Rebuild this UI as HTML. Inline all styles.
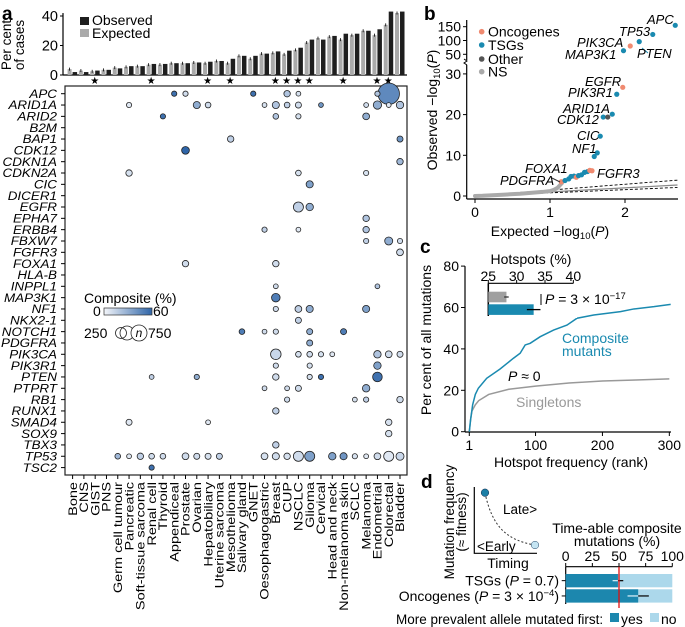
<!DOCTYPE html>
<html><head><meta charset="utf-8">
<style>
html,body{margin:0;padding:0;background:#fff;}
svg{display:block;font-family:"Liberation Sans",Arial,sans-serif;}
</style></head>
<body>
<svg id="fig" width="685" height="627" viewBox="0 0 685 627" xmlns="http://www.w3.org/2000/svg">
<g id="pa"></g>
<g id="pb"></g>
<g id="pc"></g>
<g id="pd"></g>
</svg>
<script>
// ---------- Panel a data ----------
const cancers = ["Bone","CNS","GIST","PNS","Germ cell tumour","Pancreatic","Soft-tissue sarcoma","Renal cell","Thyroid","Appendiceal","Prostate","Ovarian","Hepatobiliary","Uterine sarcoma","Mesothelioma","Salivary gland","GNET","Oesophagogastric","Breast","CUP","NSCLC","Glioma","Cervical","Head and neck","Non-melanoma skin","SCLC","Melanoma","Endometrial","Colorectal","Bladder"];
const expectedPct = [4,3,2.5,3.5,5,5.5,6,7,7,8,8,8.5,8,9.5,8,13,11,14.5,15,14,17,22,25,26,24,27,30,27,34,42];
const observedPct = [2,2,3,3.5,4.5,6,6,7.5,7.5,8,8,8.5,9,9.5,11,13,13,14.5,16,16.5,18.5,24,24,26.5,28,28,30,31,43,43];
const starCols = [2,7,12,14,18,19,20,21,24,27,28];
const barTicks = [0,20,40];
const genes = ["APC","ARID1A","ARID2","B2M","BAP1","CDK12","CDKN1A","CDKN2A","CIC","DICER1","EGFR","EPHA7","ERBB4","FBXW7","FGFR3","FOXA1","HLA-B","INPPL1","MAP3K1","NF1","NKX2-1","NOTCH1","PDGFRA","PIK3CA","PIK3R1","PTEN","PTPRT","RB1","RUNX1","SMAD4","SOX9","TBX3","TP53","TSC2"];
// [gene, cancer index, n, composite %]
const bubbles = [
["APC",9,30,55],["APC",10,30,10],["APC",16,30,55],["APC",19,45,20],["APC",20,25,8],["APC",27,30,20],["APC",28,500,45],
["ARID1A",5,30,5],["ARID1A",11,55,30],["ARID1A",12,35,10],["ARID1A",17,25,8],["ARID1A",18,55,20],["ARID1A",19,35,15],["ARID1A",20,40,10],["ARID1A",22,25,40],["ARID1A",26,25,10],["ARID1A",27,75,30],["ARID1A",28,25,5],["ARID1A",29,60,20],
["ARID2",8,30,55],["ARID2",18,35,20],["ARID2",20,30,8],["ARID2",26,50,30],
["BAP1",14,45,15],["BAP1",29,40,40],
["CDK12",10,65,60],
["CDKN1A",29,45,25],
["CDKN2A",5,45,8],["CDKN2A",20,35,8],["CDKN2A",26,30,8],
["CIC",21,55,35],
["EGFR",20,110,15],["EGFR",21,60,30],
["EPHA7",26,45,20],
["ERBB4",17,30,15],["ERBB4",20,25,5],["ERBB4",26,45,20],
["FBXW7",26,30,15],["FBXW7",28,70,30],["FBXW7",29,30,10],
["FGFR3",29,50,10],
["FOXA1",10,45,10],["FOXA1",18,45,10],
["INPPL1",18,25,10],["INPPL1",27,25,20],
["MAP3K1",18,80,50],
["NF1",18,30,10],["NF1",20,50,15],["NF1",21,55,30],["NF1",26,55,35],
["NKX2-1",20,40,15],
["NOTCH1",15,35,50],["NOTCH1",17,25,10],["NOTCH1",18,30,10],["NOTCH1",21,40,30],["NOTCH1",24,40,50],
["PDGFRA",21,40,30],
["PIK3CA",18,120,12],["PIK3CA",20,35,8],["PIK3CA",21,35,10],["PIK3CA",22,30,8],["PIK3CA",23,25,5],["PIK3CA",27,60,20],["PIK3CA",28,50,10],["PIK3CA",29,40,10],
["PIK3R1",18,30,10],["PIK3R1",21,30,8],["PIK3R1",27,60,35],
["PTEN",7,25,15],["PTEN",11,30,30],["PTEN",18,45,10],["PTEN",21,30,8],["PTEN",22,30,55],["PTEN",27,100,55],
["PTPRT",17,25,10],["PTPRT",19,25,10],["PTPRT",20,40,10],["PTPRT",26,60,30],
["RB1",19,30,10],["RB1",25,25,8],["RB1",26,30,15],["RB1",29,45,10],
["RUNX1",18,45,15],
["SMAD4",5,40,5],["SMAD4",12,25,5],["SMAD4",28,45,8],
["SOX9",28,45,8],
["TBX3",18,45,15],
["TP53",4,35,25],["TP53",5,25,5],["TP53",6,45,15],["TP53",7,35,10],["TP53",8,35,10],["TP53",10,50,10],["TP53",11,40,10],["TP53",12,40,8],["TP53",13,40,15],["TP53",17,50,8],["TP53",18,55,10],["TP53",19,45,8],["TP53",20,110,10],["TP53",21,110,35],["TP53",23,60,35],["TP53",24,55,40],["TP53",25,30,8],["TP53",26,25,5],["TP53",27,50,10],["TP53",28,110,5],["TP53",29,70,12],
["TSC2",7,30,55]
];
// ---------- Panel b data ----------
const qqTicksX = [0,1,2];
const qqTicksLow = [0,10,20,30];
const qqTicksHigh = [50,100,150];
const nsExp = [0,0.1,0.2,0.3,0.4,0.5,0.6,0.7,0.8,0.9,1.0,1.05,1.1,1.13,1.16];
const nsObs = [0,0.05,0.15,0.25,0.35,0.45,0.55,0.7,0.85,1.0,1.2,1.5,2.0,2.6,3.2];
const sigExp = [1.15,1.2,1.25,1.28,1.32,1.35,1.38,1.42,1.46,1.5,1.53,1.56,1.59,1.63,1.67,1.71,1.77,1.83,1.89,1.97,1.98,2.07,2.19,2.37,2.67];
const sigObs = [3.5,3.8,4.2,4.8,4.9,4.6,5.0,5.2,5.8,6.0,6.3,6.2,9.7,10.6,14.7,19.4,19.4,20.1,25,26.7,63,80,96,122,155];
const sigType = ["onc","tsg","tsg","tsg","tsg","onc","tsg","tsg","tsg","tsg","onc","onc","tsg","tsg","tsg","tsg","other","tsg","tsg","onc","tsg","onc","tsg","tsg","tsg"];
const qqLabels = [["APC",647,24],["TP53",619,36],["PIK3CA",577,47],["PTEN",637,58],["MAP3K1",565,59],["EGFR",585,86],["PIK3R1",568,97],["ARID1A",563,113],["CDK12",557,124],["CIC",577,140],["NF1",572,153],["FOXA1",525,173],["PDGFRA",500,185],["FGFR3",597,178]];
// ---------- Panel c data ----------
const rankTicks = [1,100,200,300];
const pctTicks = [0,20,40,60,80];
const compRank = [1,3,6,10,14.5,27,47,67,77,84.5,92,107,127,147,162,187,227,247,277,302];
const compPct = [0,6,13,18,21,25.8,30.3,35.5,37.9,41.9,42.7,45.9,49.1,51.5,54.8,56.4,58,59.3,60.4,61.5];
const singRank = [1,3,5,10,15,30,60,100,150,200,250,300];
const singPct = [0,6,10,13,15,18,20.5,22,23.5,24.5,25,25.5];
const hotTicks = [25,30,35,40];
const hotVals = [28.2,33];
const hotErr = [0.4,1.2];
// ---------- Panel d data ----------
const dGroups = ["TSGs","Oncogenes"];
const dYes = [49,68];
const dErrLo = [44,58];
const dErrHi = [54,78];
const dTicks = [0,25,50,75,100];

const NS="http://www.w3.org/2000/svg";
function mk(parent,tag,attrs,text){const e=document.createElementNS(NS,tag);for(const k in attrs)e.setAttribute(k,attrs[k]);if(text!==undefined)e.textContent=text;parent.appendChild(e);return e;}

// ================= Panel a =================
const pa=document.getElementById('pa');
const colX=j=>72.6+j*11.29;
const rowY=i=>93.7+i*11.33;
const barY=v=>75-v*1.475;
let t=mk(pa,'text',{x:2,y:20,'font-size':19,'font-weight':'bold'},'a');

t=mk(pa,'text',{transform:'translate(11,45) rotate(-90)','text-anchor':'middle','font-size':13.5},'Per cent');

t=mk(pa,'text',{transform:'translate(24,45) rotate(-90)','text-anchor':'middle','font-size':13.5},'of cases');

mk(pa,'line',{x1:63,y1:barY(42),x2:63,y2:75.5,stroke:'#000','stroke-width':1.2});
mk(pa,'line',{x1:63,y1:75,x2:407,y2:75,stroke:'#000','stroke-width':1.2});
barTicks.forEach(v=>{
  mk(pa,'line',{x1:60,y1:barY(v),x2:63,y2:barY(v),stroke:'#000'});
  const e=mk(pa,'text',{x:58,y:barY(v)+5,'text-anchor':'end','font-size':14.5},String(v));
  
});
cancers.forEach((c,j)=>{
  const x=colX(j);
  const b1=mk(pa,'rect',{x:x-5,y:barY(expectedPct[j]),width:4,height:75-barY(expectedPct[j]),fill:'#aaa'});
  
  const b2=mk(pa,'rect',{x:x,y:barY(observedPct[j]),width:4.5,height:75-barY(observedPct[j]),fill:'#1e1e1e'});
  
  mk(pa,'line',{x1:x-3,y1:barY(expectedPct[j])-1.5,x2:x-3,y2:barY(expectedPct[j])+1.5,stroke:'#000','stroke-width':0.8});
});
starCols.forEach(j=>{
  const s=mk(pa,'text',{x:colX(j)-0.5,y:84,'text-anchor':'middle','font-size':10},'★');
  
});
// legend
mk(pa,'rect',{x:80,y:17,width:9,height:8,fill:'#1e1e1e'});
t=mk(pa,'text',{x:92,y:25,'font-size':14},'Observed');
mk(pa,'rect',{x:80,y:29,width:9,height:8,fill:'#aaa'});
t=mk(pa,'text',{x:92,y:38,'font-size':14},'Expected');
// bubble box
const box=mk(pa,'rect',{x:65,y:86,width:342,height:389,fill:'none',stroke:'#222','stroke-width':1.2});

genes.forEach((g,i)=>{
  mk(pa,'line',{x1:61,y1:rowY(i),x2:65,y2:rowY(i),stroke:'#000'});
  const e=mk(pa,'text',{transform:`translate(57,${rowY(i)+4.2}) scale(1.12,1)`,'text-anchor':'end','font-size':12,'font-style':'italic'},g);
  
});
cancers.forEach((c,j)=>{
  mk(pa,'line',{x1:colX(j),y1:475,x2:colX(j),y2:479,stroke:'#000'});
  const e=mk(pa,'text',{transform:`translate(${colX(j)+4.2},482) rotate(-90) scale(1.25,1)`,'text-anchor':'end','font-size':11.6},c);
  
});
function compColor(p){const f=Math.min(1,p/60);const a=[240,244,250],b=[47,101,168];return `rgb(${a.map((v,k)=>Math.round(v+(b[k]-v)*f)).join(',')})`;}
bubbles.slice().sort((a,b)=>b[2]-a[2]).forEach(b=>{
  const i=genes.indexOf(b[0]);
  const c=mk(pa,'circle',{cx:colX(b[1]),cy:rowY(i),r:0.48*Math.sqrt(b[2]),fill:compColor(b[3]),stroke:'#222','stroke-width':0.8});
  
});
// composite legend
t=mk(pa,'text',{x:84,y:303,'font-size':14},'Composite (%)');
const defs=mk(document.getElementById('fig'),'defs',{});
const lg=mk(defs,'linearGradient',{id:'cg',x1:0,x2:1,y1:0,y2:0});
mk(lg,'stop',{offset:0,'stop-color':'#f4f6fa'});mk(lg,'stop',{offset:1,'stop-color':'#2f65a8'});
mk(pa,'text',{x:93,y:316,'font-size':14},'0');
const gb=mk(pa,'rect',{x:104,y:308,width:48,height:7,fill:'url(#cg)',stroke:'#333','stroke-width':0.7});

mk(pa,'text',{x:153,y:316,'font-size':14},'60');
mk(pa,'text',{x:84,y:338,'font-size':14},'250');
mk(pa,'circle',{cx:121,cy:333,r:5.5,fill:'none',stroke:'#222','stroke-width':0.8});
mk(pa,'circle',{cx:127,cy:333,r:7,fill:'none',stroke:'#222','stroke-width':0.8});
mk(pa,'circle',{cx:139,cy:333,r:8,fill:'#fff',stroke:'#222','stroke-width':0.8});
mk(pa,'text',{x:139,y:337,'font-size':12,'font-style':'italic','text-anchor':'middle'},'n');
mk(pa,'text',{x:148,y:338,'font-size':14},'750');

// ================= Panel b =================
const pb=document.getElementById('pb');
const bx=v=>475+75*v;
const by=v=>v<=40?196-4.07*v:54.3-0.276*(v-50);
t=mk(pb,'text',{x:424,y:20,'font-size':19,'font-weight':'bold'},'b');
mk(pb,'line',{x1:466.7,y1:20,x2:466.7,y2:60,stroke:'#000','stroke-width':1.2});
mk(pb,'line',{x1:466.7,y1:65,x2:466.7,y2:199,stroke:'#000','stroke-width':1.2});
mk(pb,'path',{d:'M464,59 l3,2 l-3,2 l3,2',fill:'none',stroke:'#000','stroke-width':1});
mk(pb,'line',{x1:466.7,y1:199,x2:678,y2:199,stroke:'#000','stroke-width':1.2});
qqTicksX.forEach(v=>{mk(pb,'line',{x1:bx(v),y1:199,x2:bx(v),y2:203,stroke:'#000'});
  const e=mk(pb,'text',{x:bx(v),y:217,'text-anchor':'middle','font-size':14},String(v));});
qqTicksLow.concat(qqTicksHigh).forEach(v=>{mk(pb,'line',{x1:463,y1:by(v),x2:466.7,y2:by(v),stroke:'#000'});
  const e=mk(pb,'text',{x:461,y:by(v)+5,'text-anchor':'end','font-size':14},String(v));});
t=mk(pb,'text',{x:550,y:236,'text-anchor':'middle','font-size':14});t.innerHTML='Expected −log<tspan font-size="9.5" dy="3">10</tspan><tspan dy="-3">(</tspan><tspan font-style="italic">P</tspan>)';

t=mk(pb,'text',{transform:'translate(437,110) rotate(-90)','text-anchor':'middle','font-size':14});t.innerHTML='Observed −log<tspan font-size="9.5" dy="3">10</tspan><tspan dy="-3">(</tspan><tspan font-style="italic">P</tspan>)';

mk(pb,'line',{x1:bx(0),y1:by(0),x2:bx(2.7),y2:by(2.7),stroke:'#888','stroke-width':1.2});
mk(pb,'line',{x1:bx(0),y1:by(0),x2:bx(2.7),y2:by(3.9),stroke:'#000','stroke-width':0.9,'stroke-dasharray':'3,2'});
mk(pb,'line',{x1:bx(0),y1:by(0),x2:bx(2.7),y2:by(2.1),stroke:'#000','stroke-width':0.9,'stroke-dasharray':'3,2'});
const nsLine=mk(pb,'polyline',{points:nsExp.map((v,k)=>bx(v)+','+by(nsObs[k])).join(' '),fill:'none',stroke:'#aaa','stroke-width':4,'stroke-linecap':'round'});

const tc={onc:'#f08a70',tsg:'#1a8ab0',other:'#555'};
sigExp.forEach((v,k)=>{const c=mk(pb,'circle',{cx:bx(v),cy:by(sigObs[k]),r:2.6,fill:tc[sigType[k]]});
  });
mk(pb,'line',{x1:642,y1:48,x2:648,y2:53,stroke:'#1a8ab0'});
mk(pb,'line',{x1:552,y1:178,x2:560,y2:182,stroke:'#333'});
qqLabels.forEach(l=>{const e=mk(pb,'text',{x:l[1],y:l[2],'font-size':13,'font-style':'italic'},l[0]);});
[['Oncogenes','#f08a70',31.7],['TSGs','#1a8ab0',45],['Other','#555',59],['NS','#aaa',71.7]].forEach(l=>{
  mk(pb,'circle',{cx:481.7,cy:l[2],r:2.8,fill:l[1]});
  const e=mk(pb,'text',{x:488,y:l[2]+5,'font-size':14},l[0]);
});

// ================= Panel c =================
const pc=document.getElementById('pc');
const cx=r=>469.3+(r-1)*0.669;
const cy=v=>431.7-2.07*v;
t=mk(pc,'text',{x:420,y:253,'font-size':19,'font-weight':'bold'},'c');
mk(pc,'line',{x1:465,y1:cy(80),x2:465,y2:432,stroke:'#000','stroke-width':1.2});
mk(pc,'line',{x1:465,y1:432,x2:671,y2:432,stroke:'#000','stroke-width':1.2});
pctTicks.forEach(v=>{mk(pc,'line',{x1:461,y1:cy(v),x2:465,y2:cy(v),stroke:'#000'});
  const e=mk(pc,'text',{x:459,y:cy(v)+5,'text-anchor':'end','font-size':14},String(v));});
rankTicks.forEach(v=>{mk(pc,'line',{x1:cx(v),y1:432,x2:cx(v),y2:436,stroke:'#000'});
  const e=mk(pc,'text',{x:cx(v),y:450,'text-anchor':'middle','font-size':14},String(v));});
t=mk(pc,'text',{x:571,y:467,'text-anchor':'middle','font-size':14},'Hotspot frequency (rank)');
t=mk(pc,'text',{transform:'translate(431,340) rotate(-90)','text-anchor':'middle','font-size':14},'Per cent of all mutations');
const sl=mk(pc,'polyline',{points:singRank.map((r,k)=>cx(r)+','+cy(singPct[k])).join(' '),fill:'none',stroke:'#999','stroke-width':1.5});

const cl=mk(pc,'polyline',{points:compRank.map((r,k)=>cx(r)+','+cy(compPct[k])).join(' '),fill:'none',stroke:'#1a8ab0','stroke-width':1.5});

t=mk(pc,'text',{x:562,y:343,'font-size':14,fill:'#1a8ab0'},'Composite');
mk(pc,'text',{x:562,y:356,'font-size':14,fill:'#1a8ab0'},'mutants');
t=mk(pc,'text',{x:508,y:381,'font-size':14});t.innerHTML='<tspan font-style="italic">P</tspan> ≈ 0';
t=mk(pc,'text',{x:516,y:407,'font-size':14,fill:'#999'},'Singletons');
// inset
const hx=v=>488.3+(v-25)*5.67;
mk(pc,'rect',{x:487,y:284,width:90,height:34,fill:'#fff'});
t=mk(pc,'text',{x:531,y:264,'text-anchor':'middle','font-size':14},'Hotspots (%)');
mk(pc,'line',{x1:hx(25),y1:283.3,x2:hx(40),y2:283.3,stroke:'#000','stroke-width':1.2});
mk(pc,'line',{x1:hx(25),y1:283.3,x2:hx(25),y2:316,stroke:'#000','stroke-width':1.5});
hotTicks.forEach(v=>{mk(pc,'line',{x1:hx(v),y1:280,x2:hx(v),y2:283.3,stroke:'#000'});
  const e=mk(pc,'text',{x:hx(v),y:281,'text-anchor':'middle','font-size':14},String(v));});
['#a0a0a0','#1a8ab0'].forEach((col,k)=>{const y=k?304.3:291.7;
  const r=mk(pc,'rect',{x:hx(25),y:y,width:hx(hotVals[k])-hx(25),height:10.6,fill:col});
  
  mk(pc,'line',{x1:hx(hotVals[k]-hotErr[k]),y1:y+5.3,x2:hx(hotVals[k]+hotErr[k]),y2:y+5.3,stroke:k?'#000':'#333','stroke-width':1.3});
});
mk(pc,'line',{x1:541,y1:294,x2:541,y2:305,stroke:'#000'});
t=mk(pc,'text',{x:545,y:304,'font-size':14});t.innerHTML='<tspan font-style="italic">P</tspan> = 3 × 10<tspan font-size="9.5" dy="-5">−17</tspan>';


// ================= Panel d =================
const pd=document.getElementById('pd');
t=mk(pd,'text',{x:421,y:488,'font-size':19,'font-weight':'bold'},'d');
mk(pd,'path',{d:'M474.3,487 V553.3 H537',fill:'none',stroke:'#000','stroke-width':1.2});
mk(pd,'path',{d:'M485,493 C492,525 505,540 535,545',fill:'none',stroke:'#333','stroke-width':1,'stroke-dasharray':'2,2'});
mk(pd,'circle',{cx:485,cy:492.7,r:3.8,fill:'#1c7fa6',stroke:'#124','stroke-width':0.5});
mk(pd,'circle',{cx:535,cy:545,r:3.8,fill:'#c4e4f2',stroke:'#246','stroke-width':0.5});
mk(pd,'text',{x:503,y:514,'font-size':13.5},'Late>');
mk(pd,'text',{x:477,y:551,'font-size':13.5},'<Early');
t=mk(pd,'text',{x:508,y:568,'text-anchor':'middle','font-size':14},'Timing');
t=mk(pd,'text',{transform:'translate(454,522) rotate(-90)','text-anchor':'middle','font-size':13.5},'Mutation frequency');
mk(pd,'text',{transform:'translate(466,522) rotate(-90)','text-anchor':'middle','font-size':13.5},'(≈ fitness)');
const dx=v=>565.7+v*1.066;
t=mk(pd,'text',{x:617,y:533,'text-anchor':'middle','font-size':14},'Time-able composite');
mk(pd,'text',{x:617,y:546,'text-anchor':'middle','font-size':14},'mutations (%)');
mk(pd,'line',{x1:dx(0),y1:566.7,x2:dx(100),y2:566.7,stroke:'#000','stroke-width':1.2});
dTicks.forEach(v=>{mk(pd,'line',{x1:dx(v),y1:563,x2:dx(v),y2:566.7,stroke:'#000'});
  const e=mk(pd,'text',{x:dx(v),y:561,'text-anchor':'middle','font-size':14},String(v));});
mk(pd,'line',{x1:dx(0),y1:566.7,x2:dx(0),y2:604,stroke:'#000','stroke-width':1.2});
const dLabels=['TSGs (<tspan font-style="italic">P</tspan> = 0.7)','Oncogenes (<tspan font-style="italic">P</tspan> = 3 × 10<tspan font-size="9.5" dy="-5">−4</tspan><tspan dy="5">)</tspan>'];
dGroups.forEach((g,k)=>{
  const y=574+k*15.3, h=13.3;
  const no=mk(pd,'rect',{x:dx(0),y:y,width:dx(100)-dx(0),height:h,fill:'#acd8eb'});
  
  const yes=mk(pd,'rect',{x:dx(0),y:y,width:dx(dYes[k])-dx(0),height:h,fill:'#1c87ae'});
  
  mk(pd,'line',{x1:dx(dErrLo[k]),y1:y+h/2,x2:dx(dYes[k]),y2:y+h/2,stroke:'#cfe9f4','stroke-width':1.3});
  mk(pd,'line',{x1:dx(dYes[k]),y1:y+h/2,x2:dx(dErrHi[k]),y2:y+h/2,stroke:'#111','stroke-width':1.3});
  mk(pd,'line',{x1:dx(0)-4,y1:y+h/2,x2:dx(0),y2:y+h/2,stroke:'#000'});
  const e=mk(pd,'text',{x:559,y:y+h/2+5,'text-anchor':'end','font-size':14});e.innerHTML=dLabels[k];
  
});
const rl=mk(pd,'line',{x1:dx(50),y1:566.7,x2:dx(50),y2:608,stroke:'#e01010','stroke-width':1.3});

t=mk(pd,'text',{x:396,y:624,'font-size':13.5},'More prevalent allele mutated first:');
mk(pd,'rect',{x:610,y:613,width:9,height:9,fill:'#1c87ae'});
t=mk(pd,'text',{x:621,y:624,'font-size':14},'yes');
mk(pd,'rect',{x:650,y:613,width:9,height:9,fill:'#acd8eb'});
t=mk(pd,'text',{x:661,y:624,'font-size':14},'no');
</script>
</body></html>
